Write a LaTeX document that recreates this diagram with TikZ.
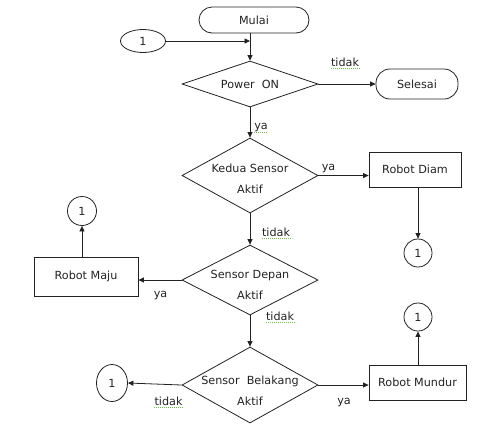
\documentclass[tikz,border=0pt]{standalone}
\usepackage{fontspec}
\setmainfont{DejaVu Sans}
\usetikzlibrary{shapes.geometric,arrows.meta,calc}
\definecolor{ink}{HTML}{222222}
\definecolor{sqg}{HTML}{6DBE45}
\begin{document}
\begin{tikzpicture}[x=1bp,y=-1bp,
  every node/.style={font=\fontsize{11.2bp}{21bp}\selectfont, text=ink},
  ln/.style={draw=ink, line width=0.8bp},
  arr/.style={ln, -{Triangle[length=5.5bp,width=5bp]}},
  term/.style={ln, rectangle, rounded corners=13bp, minimum width=110bp, minimum height=26bp, inner sep=0pt},
  dia/.style={ln, diamond, minimum width=136bp, inner sep=0pt},
  proc/.style={ln, rectangle, inner sep=0pt},
  conn/.style={ln, ellipse, inner sep=0pt},
  lbl/.style={inner sep=0pt},
  squig/.style={draw=sqg, line width=0.9bp, dash pattern=on 1bp off 1bp},
]
\useasboundingbox (0,0) rectangle (495,426);

% nodes
\node[term] (mulai) at (254,20) {Mulai};
\node[conn, minimum width=45bp, minimum height=23bp] (c0) at (143,41) {1};
\node[dia, minimum height=46bp, label={[lbl]center:Power\ \ ON}] (pw) at (250,84) {};
\node[term, minimum width=82bp, minimum height=30bp, rounded corners=14bp] (sel) at (417,84) {Selesai};
\node[dia, minimum height=75bp, label={[lbl,align=center,yshift=-3bp]center:Kedua Sensor\\Aktif}] (kd) at (250,175.5) {};
\node[proc, minimum width=92bp, minimum height=35bp] (rd) at (415,169.5) {Robot Diam};
\node[conn, minimum size=28bp] (c1) at (418,253) {1};
\node[dia, minimum height=70bp, label={[lbl,align=center,yshift=-5bp]center:Sensor Depan\\Aktif}] (sd) at (250,280) {};
\node[proc, minimum width=104bp, minimum height=39bp] (rm) at (86,276.5) {Robot Maju};
\node[conn, minimum size=29bp] (c2) at (82,211) {1};
\node[dia, minimum height=76bp, label={[lbl,align=center,yshift=-6bp]center:Sensor\ \ Belakang\\Aktif}] (sb) at (250,385) {};
\node[conn, minimum width=31bp, minimum height=37bp] (c3) at (112,383) {1};
\node[proc, minimum width=97bp, minimum height=35bp] (rmd) at (417.5,382.5) {Robot Mundur};
\node[conn, minimum size=28bp] (c4) at (418,317) {1};

% connectors
\draw[arr] (mulai.south -| pw.north) -- (pw.north);
\draw[arr] (c0.east) -- (c0.east -| pw.north);
\draw[arr] (pw.east) -- (sel.west);
\draw[arr] (pw.south) -- (kd.north);
\draw[arr] (kd.east) -- (kd.east -| rd.west);
\draw[arr] (rd.south -| c1.north) -- (c1.north);
\draw[arr] (kd.south) -- (sd.north);
\draw[arr] (sd.west) -- (sd.west -| rm.east);
\draw[arr] (rm.north -| c2.south) -- (c2.south);
\draw[arr] (sd.south) -- (sb.north);
\draw[arr] (sb.west) -- (c3.east);
\draw[arr] (sb.east) -- (sb.east -| rmd.west);
\draw[arr] (rmd.north -| c4.south) -- (c4.south);

% labels
\node[lbl] (t1) at (345,62) {tidak};
\node[lbl] (y1) at (261,128) {ya};
\node[lbl] (y2) at (328.5,169) {ya};
\node[lbl] (t2) at (276,232) {tidak};
\node[lbl] (y3) at (160.5,296) {ya};
\node[lbl] (t3) at (280,316) {tidak};
\node[lbl] (t4) at (168.5,401) {tidak};
\node[lbl] (y4) at (344,403) {ya};

% spell-check underlines
\foreach \t in {t1,y1,t2,t3,t4}{
  \draw[squig] ([yshift=-2bp]\t.base west) -- ([yshift=-2bp]\t.base east);
}
\end{tikzpicture}
\end{document}
